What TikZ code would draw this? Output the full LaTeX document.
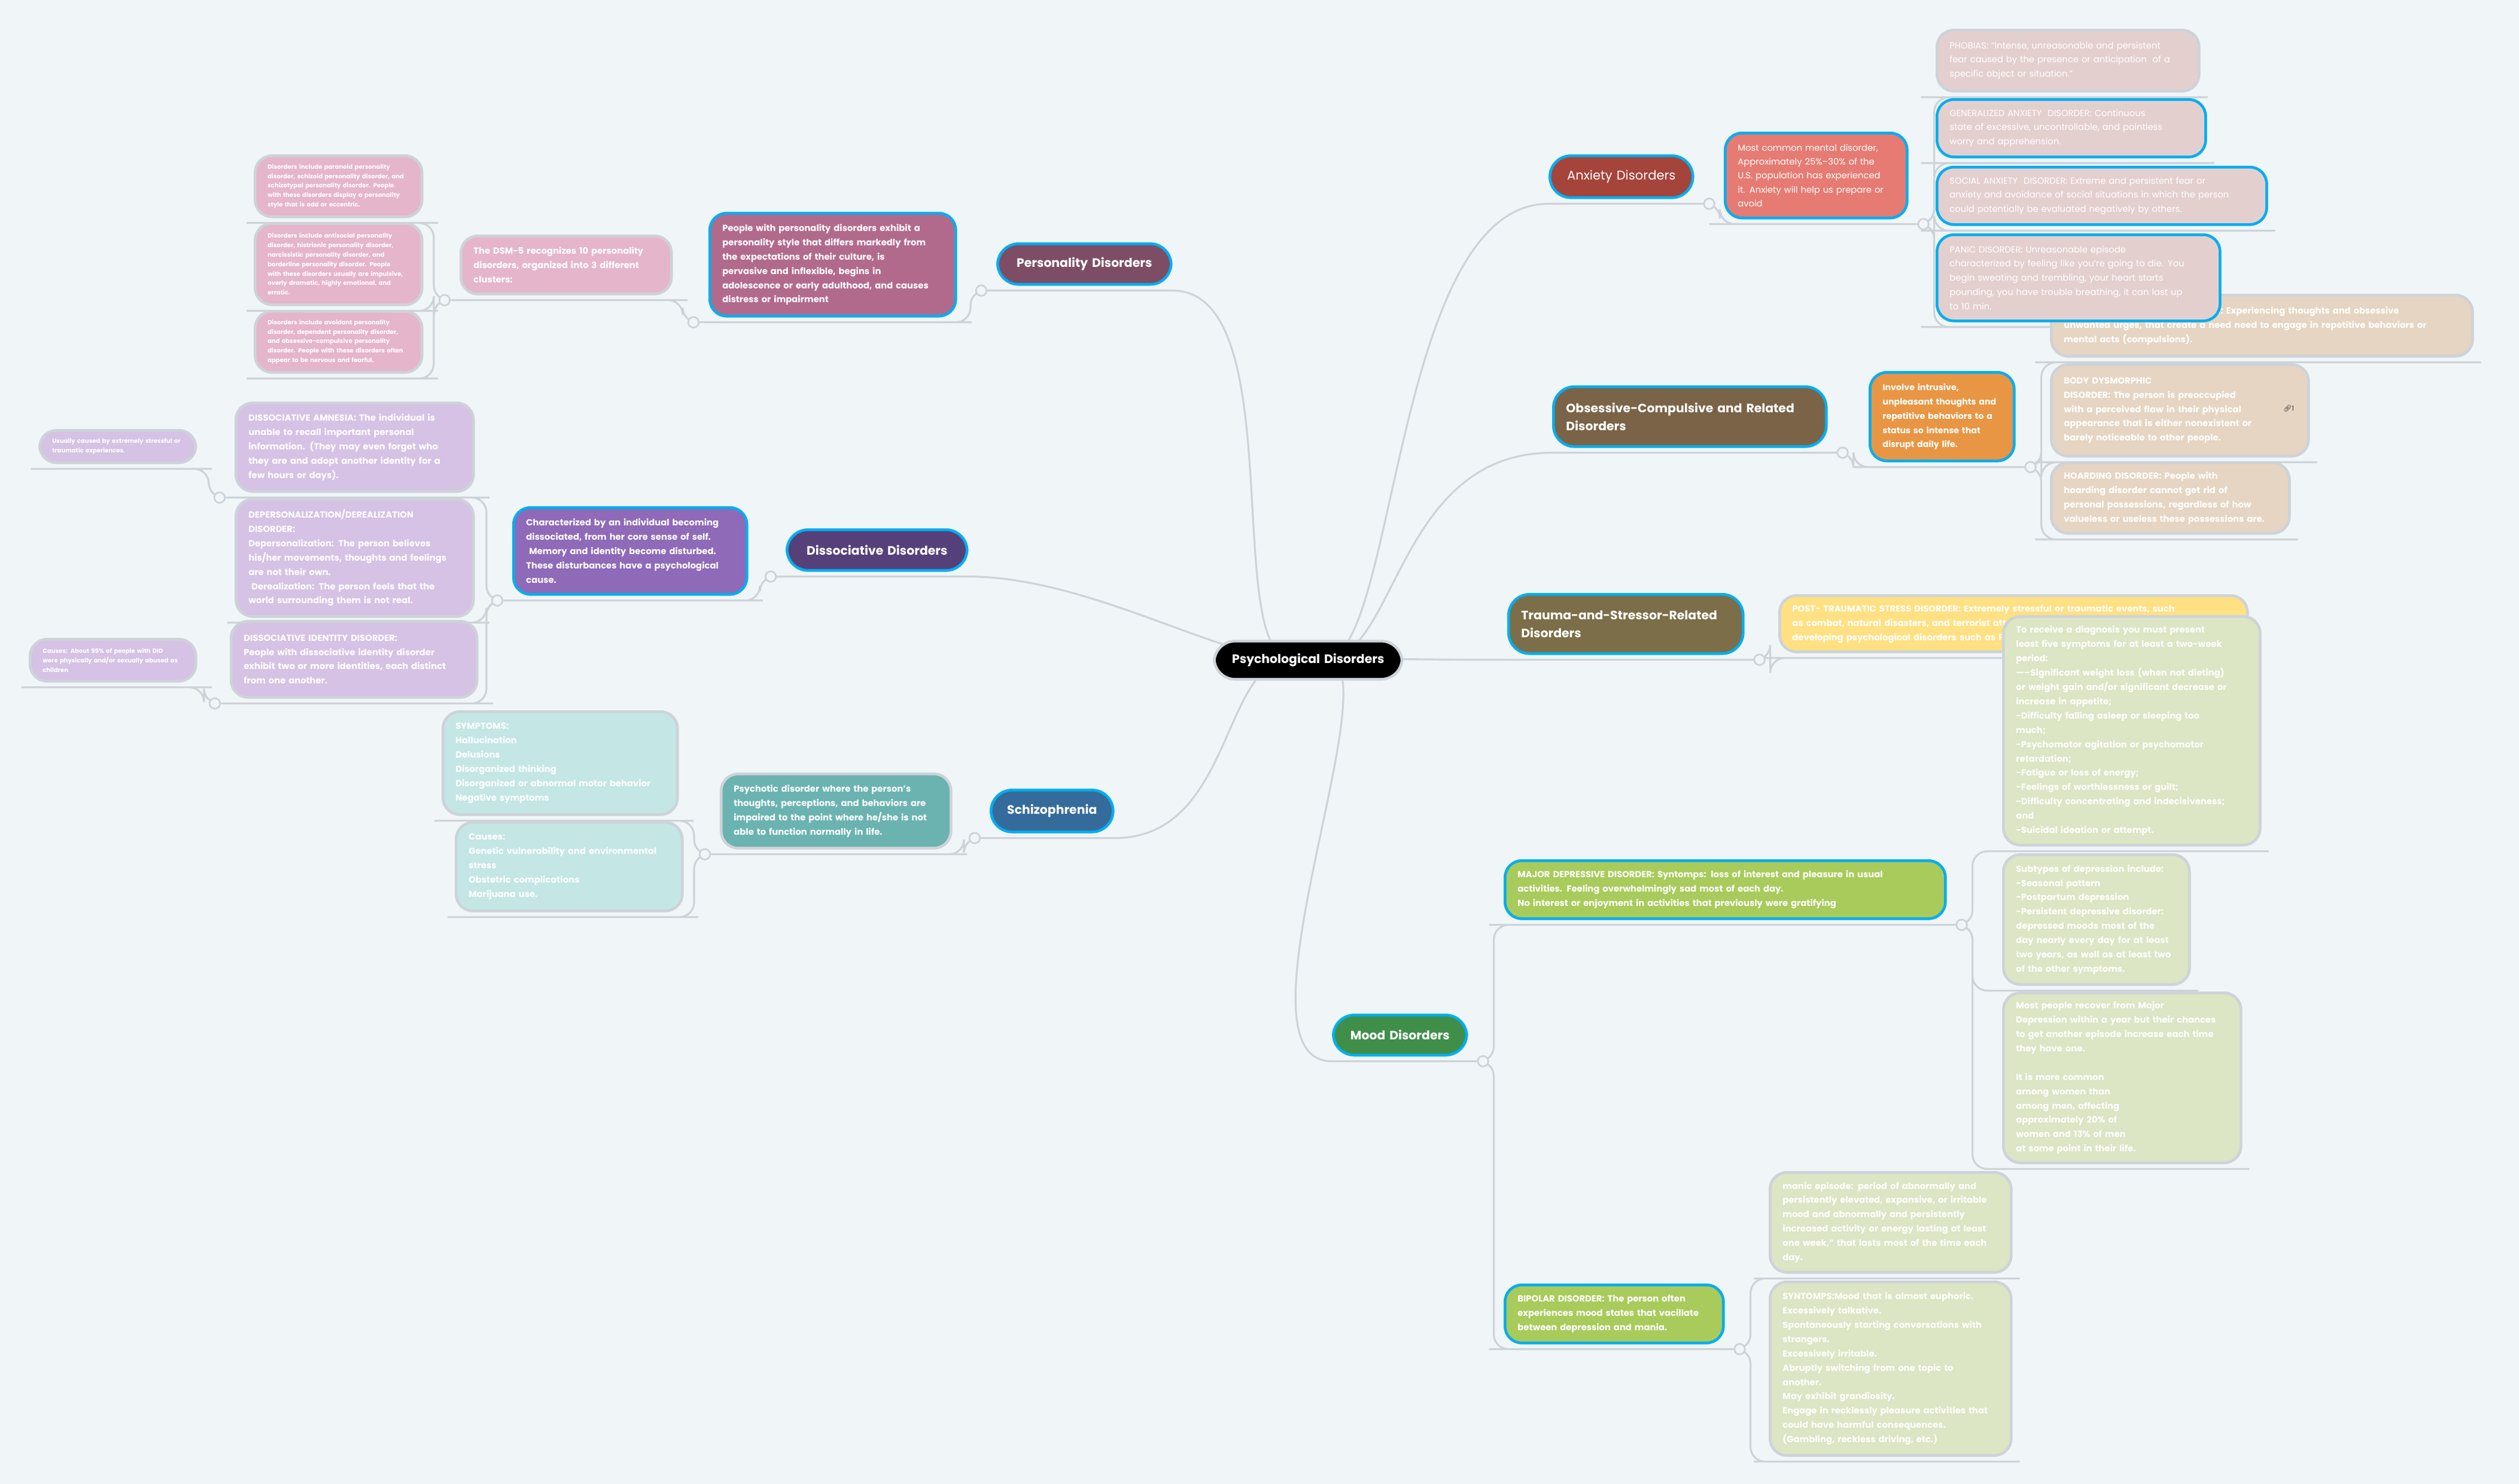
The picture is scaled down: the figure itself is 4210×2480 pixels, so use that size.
\documentclass[tikz,border=0pt]{standalone}
\usepackage{fontspec}
\setmainfont{Poppins}
\newfontfamily\emo{Noto Emoji}
\usetikzlibrary{calc}
\definecolor{bgc}{HTML}{F0F5F8}
\definecolor{gline}{HTML}{CDD3D8}
\definecolor{blueb}{HTML}{00AEEF}
\definecolor{cAnx}{HTML}{A5443B}
\definecolor{cAnxN}{HTML}{E67B73}
\definecolor{cAnxL}{HTML}{E4CFCF}
\definecolor{cOcd}{HTML}{7A6347}
\definecolor{cOcdN}{HTML}{E89644}
\definecolor{cOcdL}{HTML}{E5D5C2}
\definecolor{cTr}{HTML}{7B6E48}
\definecolor{cPtsd}{HTML}{FFE082}
\definecolor{cMood}{HTML}{3F8F4A}
\definecolor{cMdd}{HTML}{A8CB5C}
\definecolor{cMoodL}{HTML}{DCE5C4}
\definecolor{cPer}{HTML}{7D4D66}
\definecolor{cPerN}{HTML}{B26A8C}
\definecolor{cPerL}{HTML}{E5B5CC}
\definecolor{cDis}{HTML}{55407A}
\definecolor{cDisN}{HTML}{8E6AB8}
\definecolor{cDisL}{HTML}{D5C2E5}
\definecolor{cSch}{HTML}{356B9A}
\definecolor{cSchN}{HTML}{6BB3B0}
\definecolor{cSchL}{HTML}{C4E6E5}
\pgfdeclarelayer{back}
\pgfdeclarelayer{bg}
\pgfsetlayers{back,bg,main}
\newcommand\mmbox[7]{%
 \pgfmathsetmacro\bw{(#5-#3)*0.28453}%
 \pgfmathsetmacro\bh{(#6-#4)*0.28453}%
 \pgfmathsetmacro\tw{\bw-12}%
 \node[#2, anchor=north west, minimum width=\bw pt, minimum height=\bh pt, text width=\tw pt, inner xsep=6pt, inner ysep=0pt] (#1) at (#3,#4) {#7};}
\newcommand\rch[2]{\draw[conn,rounded corners=7pt] (#1) -- ++(18,0) |- ($(#2.south west)+(0,8)$) -- ($(#2.south east)+(12,8)$);}
\newcommand\lch[2]{\draw[conn,rounded corners=7pt] (#1) -- ++(-18,0) |- ($(#2.south east)+(0,8)$) -- ($(#2.south west)+(-12,8)$);}
\tikzset{
 conn/.style={draw=gline, line width=0.9pt},
 jc/.style={circle, draw=gline, line width=0.8pt, fill=bgc, inner sep=0pt, minimum size=5pt},
 bodyf/.style={font=\fontsize{4.2}{6.8}\selectfont},
 bodyb/.style={font=\fontsize{4.2}{6.8}\selectfont\bfseries},
 smallb/.style={font=\fontsize{2.85}{4.5}\selectfont\bfseries},
 mainf/.style={font=\fontsize{5.8}{8.4}\selectfont\bfseries},
 leaf/.style={draw=gline, line width=1.3pt, rounded corners=8pt, text=white, align=left},
 note/.style={draw=blueb, line width=1.3pt, rounded corners=8pt, text=white, align=left},
 pill/.style={draw=blueb, line width=1.3pt, rounded corners=10pt, text=white, align=center, mainf},
}
\begin{document}
\begin{tikzpicture}[x=0.1mm,y=-0.1mm]
\useasboundingbox (0,0) rectangle (4210,2480);
\begin{pgfonlayer}{back}
\fill[bgc] (0,0) rectangle (4210,2480);
\end{pgfonlayer}
% central
\mmbox{C}{pill,draw=gline,fill=black}{2027}{1069}{2341}{1133}{Psychological Disorders}
% ---- Anxiety
\mmbox{anx}{pill,fill=cAnx,font=\fontsize{6.0}{8.4}\selectfont}{2588}{258}{2827}{328}{Anxiety Disorders}
\mmbox{anxN}{note,fill=cAnxN,font=\fontsize{4.2}{6.6}\selectfont}{2881}{220}{3185}{362}{Most common mental disorder,\\Approximately 25\%–30\% of the\\U.S. population has experienced\\it. Anxiety will help us prepare or\\avoid}
\mmbox{pho}{leaf,fill=cAnxL,bodyf}{3235}{48}{3673}{150}{PHOBIAS: “Intense, unreasonable and persistent\\fear caused by the presence or anticipation\ \ of a\\specific object or situation.”}
\mmbox{gad}{note,fill=cAnxL,bodyf}{3235}{164}{3684}{260}{GENERALIZED ANXIETY\ \ DISORDER: Continuous\\state of excessive, uncontrollable, and pointless\\worry and apprehension.}
\mmbox{soc}{note,fill=cAnxL,bodyf}{3235}{277}{3786}{373}{SOCIAL ANXIETY\ \ DISORDER: Extreme and persistent fear or\\anxiety and avoidance of social situations in which the person\\could potentially be evaluated negatively by others.}
% ---- OCD
\mmbox{ocd}{pill,fill=cOcd,align=left}{2594}{644}{3050}{744}{Obsessive-Compulsive and Related\\Disorders}
\mmbox{ocdN}{note,fill=cOcdN,font=\fontsize{4.05}{6.8}\selectfont\bfseries}{3123}{620}{3364}{768}{Involve intrusive,\\unpleasant thoughts and\\repetitive behaviors to a\\status so intense that\\disrupt daily life.}
\mmbox{ocd1}{leaf,fill=cOcdL,bodyb}{3426}{491}{4130}{593}{OBSESSIVE-COMPULSIVE DISORDER: Experiencing thoughts and obsessive\\unwanted urges, that create a need need to engage in repetitive behaviors or\\mental acts (compulsions).}
\mmbox{bdd}{leaf,fill=cOcdL,bodyb}{3426}{607}{3856}{760}{BODY DYSMORPHIC\\DISORDER: The person is preoccupied\\with a perceived flaw in their physical\\appearance that is either nonexistent or\\barely noticeable to other people.}
\node[font=\fontsize{3.2}{4}\selectfont, text=black!80, inner sep=0pt] (lnk) at (3825,683) {{\emo 🔗}1};
\mmbox{hoa}{leaf,fill=cOcdL,bodyb}{3426}{771}{3824}{889}{HOARDING DISORDER: People with\\hoarding disorder cannot get rid of\\personal possessions, regardless of how\\valueless or useless these possessions are.}
\mmbox{pan}{note,fill=cAnxL,bodyf}{3235}{390}{3708}{534}{PANIC DISORDER: Unreasonable episode\\characterized by feeling like you’re going to die. You\\begin sweating and trembling, your heart starts\\pounding, you have trouble breathing, it can last up\\to 10 min.}
% ---- Trauma
\mmbox{tr}{pill,fill=cTr,align=left}{2519}{991}{2911}{1090}{Trauma-and-Stressor-Related\\Disorders}
\mmbox{pts}{leaf,fill=cPtsd,bodyb}{2972}{993}{3754}{1087}{POST- TRAUMATIC STRESS DISORDER: Extremely stressful or traumatic events, such\\as combat, natural disasters, and terrorist attacks, place people at risk for\\developing psychological disorders such as PTSD.}
% ---- Mood
\mmbox{mood}{pill,fill=cMood}{2226}{1694}{2449}{1761}{Mood Disorders}
\mmbox{mdd}{note,fill=cMdd,bodyb}{2513}{1436}{3249}{1533}{MAJOR DEPRESSIVE DISORDER: Syntomps: loss of interest and pleasure in usual\\activities. Feeling overwhelmingly sad most of each day.\\No interest or enjoyment in activities that previously were gratifying}
\mmbox{crit}{leaf,fill=cMoodL,bodyb}{3346}{1028}{3775}{1410}{To receive a diagnosis you must present\\least five symptoms for at least a two-week\\period:\\-----Significant weight loss (when not dieting)\\or weight gain and/or significant decrease or\\increase in appetite;\\-Difficulty falling asleep or sleeping too\\much;\\-Psychomotor agitation or psychomotor\\retardation;\\-Fatigue or loss of energy;\\-Feelings of worthlessness or guilt;\\-Difficulty concentrating and indecisiveness;\\and\\-Suicidal ideation or attempt.}
\mmbox{sub}{leaf,fill=cMoodL,bodyb}{3346}{1426}{3657}{1643}{Subtypes of depression include:\\-Seasonal pattern\\-Postpartum depression\\-Persistent depressive disorder:\\depressed moods most of the\\day nearly every day for at least\\two years, as well as at least two\\of the other symptoms.}
\mmbox{rec}{leaf,fill=cMoodL,bodyb}{3346}{1657}{3743}{1941}{Most people recover from Major\\Depression within a year but their chances\\to get another episode increase each time\\they have one.\\[6.8pt]It is more common\\among women than\\among men, affecting\\approximately 20\% of\\women and 13\% of men\\at some point in their life.}
\mmbox{bip}{note,fill=cMdd,bodyb}{2513}{2145}{2878}{2242}{BIPOLAR DISORDER: The person often\\experiences mood states that vacillate\\between depression and mania.}
\mmbox{man}{leaf,fill=cMoodL,bodyb}{2956}{1957}{3359}{2124}{manic episode: period of abnormally and\\persistently elevated, expansive, or irritable\\mood and abnormally and persistently\\increased activity or energy lasting at least\\one week,” that lasts most of the time each\\day.}
\mmbox{sym}{leaf,fill=cMoodL,bodyb}{2956}{2140}{3359}{2430}{SYNTOMPS:Mood that is almost euphoric.\\Excessively talkative.\\Spontaneously starting conversations with\\strangers.\\Excessively irritable.\\Abruptly switching from one topic to\\another.\\May exhibit grandiosity.\\Engage in recklessly pleasure activities that\\could have harmful consequences.\\(Gambling, reckless driving, etc.)}
% ---- Personality
\mmbox{per}{pill,fill=cPer}{1665}{405}{1955}{473}{Personality Disorders}
\mmbox{perN}{note,fill=cPerN,bodyb}{1184}{354}{1595}{526}{People with personality disorders exhibit a\\personality style that differs markedly from\\the expectations of their culture, is\\pervasive and inflexible, begins in\\adolescence or early adulthood, and causes\\distress or impairment}
\mmbox{dsm}{leaf,fill=cPerL,bodyb}{768}{392}{1120}{489}{The DSM-5 recognizes 10 personality\\disorders, organized into 3 different\\clusters:}
\mmbox{cl1}{leaf,fill=cPerL,smallb,inner xsep=4pt}{424}{258}{703}{360}{Disorders include paranoid personality\\disorder, schizoid personality disorder, and\\schizotypal personality disorder. People\\with these disorders display a personality\\style that is odd or eccentric.}
\mmbox{cl2}{leaf,fill=cPerL,smallb,inner xsep=4pt}{424}{371}{703}{507}{Disorders include antisocial personality\\disorder, histrionic personality disorder,\\narcissistic personality disorder, and\\borderline personality disorder. People\\with these disorders usually are impulsive,\\overly dramatic, highly emotional, and\\erratic.}
\mmbox{cl3}{leaf,fill=cPerL,smallb,inner xsep=4pt}{424}{518}{703}{620}{Disorders include avoidant personality\\disorder, dependent personality disorder,\\and obsessive-compulsive personality\\disorder. People with these disorders often\\appear to be nervous and fearful.}
% ---- Dissociative
\mmbox{dis}{pill,fill=cDis}{1313}{883}{1614}{951}{Dissociative Disorders}
\mmbox{disN}{note,fill=cDisN,bodyb}{856}{846}{1246}{991}{Characterized by an individual becoming\\dissociated, from her core sense of self.\\\ Memory and identity become disturbed.\\These disturbances have a psychological\\cause.}
\mmbox{amn}{leaf,fill=cDisL,bodyb}{392}{671}{789}{819}{DISSOCIATIVE AMNESIA: The individual is\\unable to recall important personal\\information. (They may even forget who\\they are and adopt another identity for a\\few hours or days).}
\mmbox{dep}{leaf,fill=cDisL,bodyb}{392}{832}{789}{1028}{DEPERSONALIZATION/DEREALIZATION\\DISORDER:\\Depersonalization: The person believes\\his/her movements, thoughts and feelings\\are not their own.\\\ Derealization: The person feels that the\\world surrounding them is not real.}
\mmbox{did}{leaf,fill=cDisL,bodyb}{384}{1036}{795}{1163}{DISSOCIATIVE IDENTITY DISORDER:\\People with dissociative identity disorder\\exhibit two or more identities, each distinct\\from one another.}
\mmbox{usu}{leaf,fill=cDisL,smallb,inner xsep=4pt}{64}{717}{325}{771}{Usually caused by extremely stressful or\\traumatic experiences.}
\mmbox{c95}{leaf,fill=cDisL,smallb,inner xsep=4pt}{48}{1066}{325}{1136}{Causes: About 95\% of people with DID\\were physically and/or sexually abused as\\children}
% ---- Schizophrenia
\mmbox{sch}{pill,fill=cSch}{1654}{1318}{1858}{1388}{Schizophrenia}
\mmbox{schN}{leaf,fill=cSchN,bodyb}{1203}{1291}{1587}{1415}{Psychotic disorder where the person’s\\thoughts, perceptions, and behaviors are\\impaired to the point where he/she is not\\able to function normally in life.}
\mmbox{ssy}{leaf,fill=cSchL,bodyb}{738}{1187}{1130}{1359}{SYMPTOMS:\\Hallucination\\Delusions\\Disorganized thinking\\Disorganized or abnormal motor behavior\\Negative symptoms}
\mmbox{sca}{leaf,fill=cSchL,bodyb}{760}{1372}{1138}{1520}{Causes:\\Genetic vulnerability and environmental\\stress\\Obstetric complications\\Marijuana use.}
% ---- junction coordinates
\coordinate (oR) at (2215,1101);
\coordinate (oL) at (2160,1101);
\coordinate (jA) at ($(anx.south east)+(25,8)$);
\coordinate (jAN) at ($(anxN.south east)+(25,8)$);
\coordinate (jO) at ($(ocd.south east)+(25,8)$);
\coordinate (jON) at ($(ocdN.south east)+(25,8)$);
\coordinate (jT) at ($(tr.south east)+(25,8)$);
\coordinate (jM) at ($(mood.south east)+(25,8)$);
\coordinate (jMD) at ($(mdd.south east)+(25,8)$);
\coordinate (jB) at ($(bip.south east)+(25,8)$);
\coordinate (jP) at ($(per.south west)+(-25,8)$);
\coordinate (jPN) at ($(perN.south west)+(-25,8)$);
\coordinate (jDS) at ($(dsm.south west)+(-25,8)$);
\coordinate (jD) at ($(dis.south west)+(-25,8)$);
\coordinate (jDN) at ($(disN.south west)+(-25,8)$);
\coordinate (jAM) at ($(amn.south west)+(-25,8)$);
\coordinate (jDI) at ($(did.south west)+(-25,8)$);
\coordinate (jS) at ($(sch.south west)+(-25,8)$);
\coordinate (jSN) at ($(schN.south west)+(-25,8)$);
\begin{pgfonlayer}{bg}
% center to main
\draw[conn] (oR) .. controls +(120,0) and +(-260,0) .. ($(anx.south west)+(0,8)$) -- (jA);
\draw[conn] (oR) .. controls +(120,0) and +(-260,0) .. ($(ocd.south west)+(0,8)$) -- (jO);
\draw[conn] (oR) .. controls +(150,0) and +(-150,0) .. ($(tr.south west)+(0,8)$) -- (jT);
\draw[conn] (oR) .. controls +(120,0) and +(-180,0) .. ($(mood.south west)+(0,8)$) -- (jM);
\draw[conn] (oL) .. controls +(-120,0) and +(200,0) .. ($(per.south east)+(0,8)$) -- (jP);
\draw[conn] (oL) .. controls +(-120,0) and +(200,0) .. ($(dis.south east)+(0,8)$) -- (jD);
\draw[conn] (oL) .. controls +(-120,0) and +(200,0) .. ($(sch.south east)+(0,8)$) -- (jS);
% parent underlines to junctions
\draw[conn] ($(anxN.south west)+(0,8)$) -- (jAN);
\draw[conn] ($(ocdN.south west)+(0,8)$) -- (jON);
\draw[conn] ($(mdd.south west)+(0,8)$) -- (jMD);
\draw[conn] ($(bip.south west)+(0,8)$) -- (jB);
\draw[conn] ($(perN.south east)+(0,8)$) -- (jPN);
\draw[conn] ($(dsm.south east)+(0,8)$) -- (jDS);
\draw[conn] ($(disN.south east)+(0,8)$) -- (jDN);
\draw[conn] ($(amn.south east)+(0,8)$) -- (jAM);
\draw[conn] ($(did.south east)+(0,8)$) -- (jDI);
\draw[conn] ($(schN.south east)+(0,8)$) -- (jSN);
% children
\rch{jA}{anxN}
\rch{jAN}{pho}\rch{jAN}{gad}\rch{jAN}{soc}\rch{jAN}{pan}
\rch{jO}{ocdN}
\rch{jON}{ocd1}\rch{jON}{bdd}\rch{jON}{hoa}
\rch{jT}{pts}
\rch{jM}{mdd}\rch{jM}{bip}
\rch{jMD}{crit}\rch{jMD}{sub}\rch{jMD}{rec}
\rch{jB}{man}\rch{jB}{sym}
\lch{jP}{perN}
\lch{jPN}{dsm}
\lch{jDS}{cl1}\lch{jDS}{cl2}\lch{jDS}{cl3}
\lch{jD}{disN}
\lch{jDN}{amn}\lch{jDN}{dep}\lch{jDN}{did}
\lch{jAM}{usu}
\lch{jDI}{c95}
\lch{jS}{schN}
\lch{jSN}{ssy}\lch{jSN}{sca}
\end{pgfonlayer}
\foreach \j in {jA,jAN,jO,jON,jT,jM,jMD,jB,jP,jPN,jDS,jD,jDN,jAM,jDI,jS,jSN}
  \node[jc] at (\j) {};
\end{tikzpicture}
\end{document}
